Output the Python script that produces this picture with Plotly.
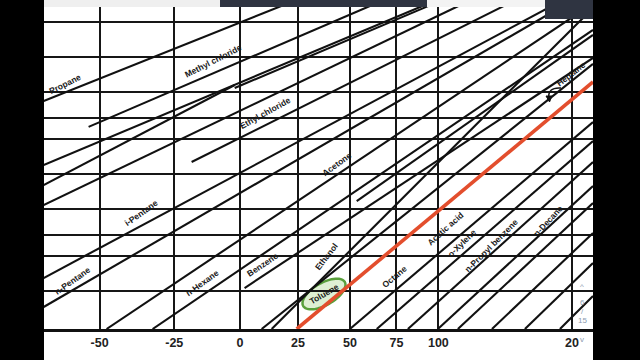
import numpy as np
import plotly.graph_objects as go

# ---- data (temperature in deg C, vapour pressure) ----
line_names = ["Propane", "Methyl chloride", "line A", "line B", "line B2", "line C",
              "Ethyl chloride", "i-Pentane", "n-Pentane", "Acetone", "n-Hexane", "Benzene",
              "Heptane", "Ethanol", "Toluene", "line D", "Octane", "Acetic acid", "o-Xylene",
              "n-Propyl benzene", "line E", "n-Decane", "line F", "line G"]
t_start = [-66.7, -53.4, -66.7, -66.7, -2.1, -66.7, -18.7, -66.7, -66.7, -47.8, -32.6, 1.9,
           9.0, 13.3, 24.4, 53.5, 50.0, 64.1, 81.6, 99.7, 112.5, 135.9, 160.6, 189.4]
p_start = [21.1, 12.7, 6.0, 4.04, 27.3, 2.73, 6.36, 0.649, 0.367, 0.238, 0.238, 0.533,
           0.238, 0.238, 0.238, 2.95, 0.238, 0.238, 0.238, 0.238, 0.238, 0.238, 0.238, 0.238]
t_end = [24.2, 68.0, 99.0, -2.1, 100.9, 121.2, 153.6, 192.0, 200.9, 219.4, 219.4, 219.4,
         219.4, 219.4, 219.4, 219.4, 219.4, 219.4, 219.4, 219.4, 219.4, 219.4, 219.4, 219.4]
p_end = [154, 154, 154, 28.9, 150.6, 154, 154, 154, 154, 144, 85.4, 49.2,
         43.8, 131.8, 30.7, 77.4, 13.97, 9.61, 6.36, 3.97, 2.84, 1.573, 0.871, 0.455]

temp_ticks = [-50, -25, 0, 25, 50, 75, 100, 200]
temp_tick_text = ["-50", "-25", "0", "25", "50", "75", "100", "20"]
pressure_grid = [0.5, 1, 1.5, 2.5, 5, 10, 15, 25, 50, 100]

T_MIN, T_MAX = -66.6, 219.4
P_MIN, P_MAX = 0.238, 154.0


def cox(t):
    return -1000.0 / (np.asarray(t, dtype=float) + 412.0)


W, H = 640, 360
L, R, T, B = 44, 47, 0, 31
PW, PH = W - L - R, H - T - B


def px(x):
    return (x - L) / PW


def py(y):
    return (H - B - y) / PH


fig = go.Figure()
for i, name in enumerate(line_names):
    red = name == "Toluene"
    fig.add_trace(go.Scatter(
        x=cox([t_start[i], t_end[i]]), y=[p_start[i], p_end[i]], mode="lines",
        line=dict(color="#e34e2d" if red else "#111111", width=3.6 if red else 2.1),
        hoverinfo="skip", showlegend=False))

# labels (text, x px, y px, angle)
labels = [("Propane", 65, 84, -26), ("Methyl chloride", 213, 61, -27),
          ("Ethyl chloride", 265, 113, -29), ("Acetone", 337, 164, -36),
          ("i-Pentane", 141, 213, -35), ("n-Pentane", 72, 281, -35),
          ("n-Hexane", 202, 283, -36), ("Benzene", 262, 265, -34),
          ("Ethanol", 326, 257, -52), ("Toluene", 324, 294, -30),
          ("Octane", 394, 277, -40), ("Acetic acid", 445, 229, -42),
          ("o-Xylene", 462, 243, -44), ("n-Propyl benzene", 491, 246, -45),
          ("n-Decane", 548, 221, -47), ("Heptane", 571, 74, -38)]

shapes = []
# green ellipse around Toluene
cx, cy, a, b, phi = 324, 294, 24, 11, np.deg2rad(-30)
tt = np.linspace(0, 2 * np.pi, 60)
ex = cx + a * np.cos(tt) * np.cos(phi) - b * np.sin(tt) * np.sin(phi)
ey = cy + a * np.cos(tt) * np.sin(phi) + b * np.sin(tt) * np.cos(phi)
path = "M " + " L ".join(f"{px(x):.4f},{py(y):.4f}" for x, y in zip(ex, ey)) + " Z"
shapes.append(dict(type="path", xref="paper", yref="paper", path=path,
                   line=dict(color="#5aa03c", width=2.5), fillcolor="rgba(160,210,130,0.35)",
                   layer="below"))

# heptane curved arrow
hp = f"M {px(561):.4f},{py(88):.4f} Q {px(547):.4f},{py(87):.4f} {px(549):.4f},{py(99):.4f}"
shapes.append(dict(type="path", xref="paper", yref="paper", path=hp,
                   line=dict(color="#111", width=1.5)))
ah = (f"M {px(546):.4f},{py(96):.4f} L {px(549.5):.4f},{py(102):.4f} "
      f"L {px(552):.4f},{py(96):.4f} Z")
shapes.append(dict(type="path", xref="paper", yref="paper", path=ah,
                   line=dict(color="#111", width=1), fillcolor="#111"))


# screen frame: black side bars, browser strip on top
def rect(x0, y0, x1, y1, color):
    return dict(type="rect", xref="paper", yref="paper", x0=px(x0), x1=px(x1),
                y0=py(y1), y1=py(y0), fillcolor=color, line=dict(width=0), layer="above")


shapes += [rect(0, 0, L, H, "black"), rect(W - R, 0, W, H, "black"),
           rect(L, 0, 220, 7, "#efefef"), rect(220, 0, 427, 7, "#2f3441"),
           rect(427, 0, 545, 7, "#f3f3f3"), rect(545, 0, W - R, 19, "#2f3441")]

annotations = []
for text, x, y, ang in labels:
    annotations.append(dict(text="<b>" + text + "</b>", x=px(x), y=py(y),
                            xref="paper", yref="paper", xanchor="center", yanchor="middle",
                            showarrow=False, textangle=ang,
                            font=dict(family="Liberation Sans", size=8.5, color="#1a1a1a")))
for text, y in [("^", 286), ("6", 302), ("/", 311), ("15", 320), ("v", 339)]:
    annotations.append(dict(text=text, x=px(582), y=py(y), xref="paper", yref="paper",
                            xanchor="center", yanchor="middle", showarrow=False,
                            font=dict(family="Liberation Sans", size=8, color="#8a9bb0")))

fig.update_layout(
    width=W, height=H, margin=dict(l=L, r=R, t=T, b=B),
    paper_bgcolor="white", plot_bgcolor="white",
    shapes=shapes, annotations=annotations,
    xaxis=dict(range=[float(cox(T_MIN)), float(cox(T_MAX))],
               tickvals=[float(v) for v in cox(temp_ticks)],
               ticktext=["<b>" + s + "</b>" for s in temp_tick_text],
               showgrid=True, gridcolor="#161616", gridwidth=2, zeroline=False,
               showline=True, linecolor="#111", linewidth=3, ticks="",
               tickfont=dict(family="Liberation Sans", size=12.5, color="#222")),
    yaxis=dict(type="log", range=[np.log10(P_MIN), np.log10(P_MAX)],
               tickvals=pressure_grid, showticklabels=False,
               showgrid=True, gridcolor="#161616", gridwidth=2, zeroline=False,
               showline=False, ticks=""),
)

fig.write_html("out.html")
